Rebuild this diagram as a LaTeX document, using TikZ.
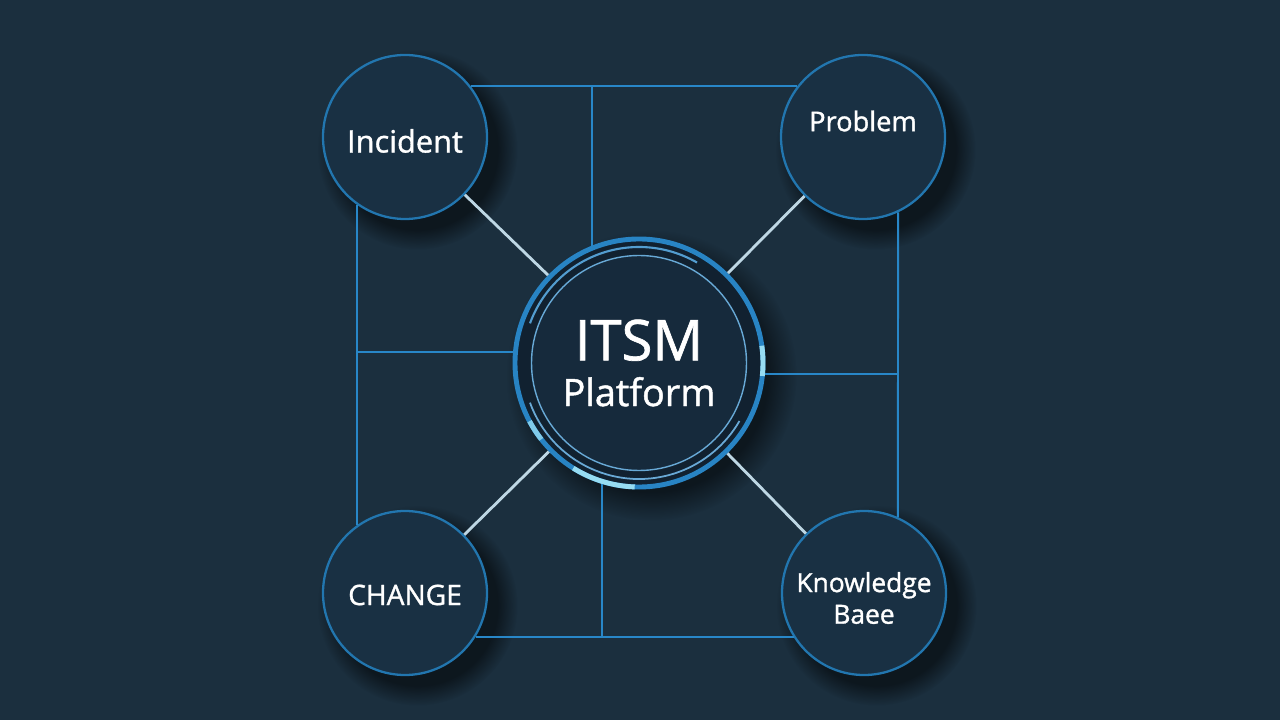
\documentclass[tikz,border=0pt]{standalone}
\usepackage{fontspec}
\setmainfont{Open Sans}
\newfontfamily\capfont{Open Sans}[FakeBold=1.2]
\usetikzlibrary{positioning,calc,fadings}
\definecolor{bgnavy}{RGB}{27,47,62}
\definecolor{modfill}{RGB}{25,48,67}
\definecolor{modedge}{RGB}{34,118,175}
\definecolor{ringblue}{RGB}{40,132,196}
\definecolor{gapfill}{RGB}{17,33,48}
\definecolor{hubfill}{RGB}{22,42,60}
\definecolor{gridblue}{RGB}{40,135,200}
\definecolor{linkgray}{RGB}{190,215,228}
\definecolor{glow}{RGB}{150,220,242}

\begin{document}
\begin{tikzpicture}[
    module/.style={circle, draw=modedge, line width=1.3pt, fill=modfill, minimum size=3.28cm, inner sep=0pt},
    hub/.style={circle, draw=ringblue, line width=2.8pt, fill=gapfill, minimum size=4.96cm, inner sep=0pt},
    core/.style={circle, draw=ringblue!70, line width=0.8pt, fill=hubfill, minimum size=4.3cm, inner sep=0pt},
    caption/.style={text=white, align=center, font=\capfont\fontsize{16}{19}\selectfont},
    gridline/.style={gridblue, line width=1.1pt},
    link/.style={linkgray, line width=1.6pt},
    softshadow/.style={black, opacity=0.5, path fading=circle with fuzzy edge 20 percent}
]

% Background
\fill[bgnavy] (0,0) rectangle (25.6,14.4);
\useasboundingbox (0,0) rectangle (25.6,14.4);

% Soft shadows
\foreach \x/\y/\r in {8.10/11.66/2.0, 17.26/11.66/2.0, 8.10/2.54/2.0, 17.28/2.54/2.0, 12.78/7.14/2.9}
    \fill[softshadow] (\x+0.25,\y-0.25) circle (\r);

% Modules
\node[module] (incident) at (8.10,11.66) {};
\node[module] (problem) at (17.26,11.66) {};
\node[module] (change) at (8.10,2.54) {};
\node[module] (knowledge) at (17.28,2.54) {};

% Hub
\node[hub] (hub) at (12.78,7.14) {};
\node[core] (core) at (hub) {};
\draw[glow, line width=2.8pt] (hub.center) ++(-6:2.48) arc[start angle=-6, end angle=8, radius=2.48];
\draw[glow, line width=2.8pt] (hub.center) ++(238:2.48) arc[start angle=238, end angle=268, radius=2.48];
\draw[glow!80!ringblue, line width=2.8pt] (hub.center) ++(208:2.48) arc[start angle=208, end angle=218, radius=2.48];
\draw[ringblue!80!white, line width=1.2pt] (hub.center) ++(60:2.32) arc[start angle=60, end angle=160, radius=2.32];
\draw[ringblue!70, line width=1pt] (hub.center) ++(200:2.32) arc[start angle=200, end angle=330, radius=2.32];

% Frame lines
\draw[gridline] (incident.38) -- (problem.142);
\draw[gridline] (hub.112) -- (hub.112 |- incident.38);
\draw[gridline] (incident.235) -- (change.125);
\draw[gridline] (hub.175) -- (hub.175 -| incident.235);
\draw[gridline] (problem.-65) -- (knowledge.66);
\draw[gridline] (hub.-5.5) -- (hub.-5.5 -| problem.-65);
\draw[gridline] (change.-32) -- (knowledge.212);
\draw[gridline] (hub.253) -- (hub.253 |- change.-32);

% Links to hub
\draw[link] (incident) -- (hub);
\draw[link] (problem) -- (hub);
\draw[link] (change) -- (hub);
\draw[link] (knowledge) -- (hub);

% Labels
\node[caption, font=\capfont\fontsize{17.5}{21}\selectfont] (incidentlbl) at ([yshift=-0.08cm]incident.center) {Incident};
\node[caption, font=\capfont\fontsize{15.5}{19}\selectfont] (problemlbl) at ([yshift=0.32cm]problem.center) {Problem};
\node[caption] (changelbl) at ([yshift=-0.04cm]change.center) {CHANGE};
\node[caption, font=\capfont\fontsize{15}{18}\selectfont] (knowledgelbl) at ([yshift=-0.1cm]knowledge.center) {Knowledge\\Baee};
\node[caption, font=\capfont\fontsize{21.5}{26}\selectfont] (hublbl) at (hub) {{\fontsize{32}{34}\selectfont ITSM}\\{Platform}};

\end{tikzpicture}
\end{document}
